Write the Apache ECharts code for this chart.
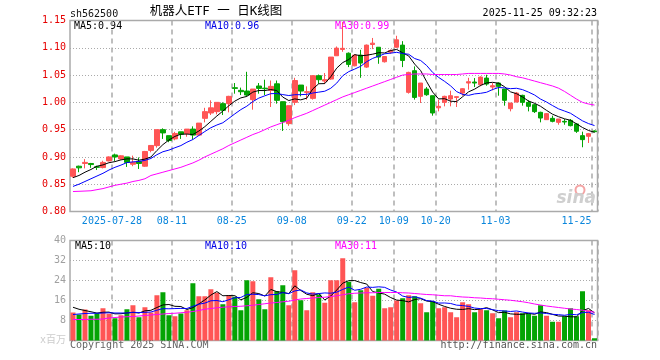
<!DOCTYPE html>
<html>
<head>
<meta charset="utf-8">
<script src="https://cdn.jsdelivr.net/npm/echarts@6/dist/echarts.min.js"></script>
<style>
html,body{margin:0;padding:0;background:#fff;}
#chart{width:660px;height:360px;}
</style>
</head>
<body>
<div id="chart"></div>
<script>
const dates = [
'2025-07-17','2025-07-18','2025-07-21','2025-07-22','2025-07-23','2025-07-24','2025-07-25',
'2025-07-28','2025-07-29','2025-07-30','2025-07-31','2025-08-01',
'2025-08-04','2025-08-05','2025-08-06','2025-08-07','2025-08-08',
'2025-08-11','2025-08-12','2025-08-13','2025-08-14','2025-08-15',
'2025-08-18','2025-08-19','2025-08-20','2025-08-21','2025-08-22',
'2025-08-25','2025-08-26','2025-08-27','2025-08-28','2025-08-29',
'2025-09-01','2025-09-02','2025-09-03','2025-09-04','2025-09-05',
'2025-09-08','2025-09-09','2025-09-10','2025-09-11','2025-09-12',
'2025-09-15','2025-09-16','2025-09-17','2025-09-18','2025-09-19',
'2025-09-22','2025-09-23','2025-09-24','2025-09-25','2025-09-26',
'2025-09-29','2025-09-30',
'2025-10-09','2025-10-10',
'2025-10-13','2025-10-14','2025-10-15','2025-10-16','2025-10-17',
'2025-10-20','2025-10-21','2025-10-22','2025-10-23','2025-10-24',
'2025-10-27','2025-10-28','2025-10-29','2025-10-30','2025-10-31',
'2025-11-03','2025-11-04','2025-11-05','2025-11-06','2025-11-07',
'2025-11-10','2025-11-11','2025-11-12','2025-11-13','2025-11-14',
'2025-11-17','2025-11-18','2025-11-19','2025-11-20','2025-11-21',
'2025-11-24','2025-11-25'
];
const tickDates = ['2025-07-28','2025-08-11','2025-08-25','2025-09-08','2025-09-22','2025-10-09','2025-10-20','2025-11-03','2025-11-25'];
const tickLabels = ['2025-07-28','08-11','08-25','09-08','09-22','10-09','10-20','11-03','11-25'];

const opens = [0.8646,0.883,0.888,0.888,0.882,0.8805,0.8927,0.9037,0.8963,0.900,
0.8866,0.8915,0.883,0.912,0.9207,0.950,0.939,0.933,0.946,0.9427,
0.951,0.940,0.9707,0.9805,0.983,0.9976,0.9976,1.0268,1.022,1.0207,
1.005,1.030,1.026,1.022,1.034,1.0012,0.961,1.000,1.0317,1.0183,
1.0073,1.0488,1.039,1.0427,1.0854,1.097,1.090,1.067,1.0866,1.0646,
1.106,1.101,1.0744,1.092,1.101,1.1049,1.0183,1.058,1.011,1.0244,
1.0122,0.990,1.000,1.0061,1.0091,1.017,1.0354,1.0372,1.0323,1.0445,
1.028,1.0354,1.0244,0.9884,1.0006,1.0128,1.000,0.9957,0.9817,0.9683,
0.9707,0.9634,0.9652,0.967,0.9604,0.939,0.9378,0.9476];
const closes = [0.878,0.880,0.890,0.886,0.881,0.890,0.900,0.900,0.902,0.890,
0.890,0.888,0.910,0.921,0.950,0.944,0.930,0.943,0.9415,0.951,
0.940,0.962,0.983,0.990,1.000,0.9854,1.011,1.0256,1.0195,1.0134,
1.0244,1.0256,1.025,1.0293,1.0037,0.9646,0.9939,1.040,1.0207,1.0195,
1.0488,1.0415,1.0415,1.083,1.0994,1.099,1.0695,1.0866,1.072,1.1049,
1.1085,1.083,1.084,1.095,1.1146,1.0768,1.0549,1.0091,1.0354,1.014,
0.9805,0.9927,1.011,1.0122,1.0104,1.025,1.0378,1.0354,1.0463,1.0335,
1.0305,1.0293,1.0037,0.9988,1.017,1.000,0.9927,0.983,0.9713,0.9793,
0.9652,0.9695,0.964,0.9573,0.947,0.9317,0.9427,0.9463];
const lows = [0.862,0.872,0.879,0.880,0.876,0.879,0.892,0.8927,0.895,0.8817,
0.883,0.878,0.882,0.9085,0.917,0.933,0.927,0.9305,0.933,0.937,
0.9317,0.939,0.9634,0.9768,0.978,0.9768,0.9817,1.0159,1.0134,1.011,
0.9866,1.0159,1.0134,0.9915,0.9976,0.9476,0.957,0.995,1.011,1.005,
1.005,1.034,1.034,1.0415,1.085,1.0927,1.0646,1.066,1.045,1.063,
1.0976,1.0707,1.073,1.089,1.100,1.0646,1.016,1.005,0.9988,1.012,
0.9756,0.9835,0.9927,0.9927,0.9915,1.0122,1.0232,1.028,1.0293,1.0305,
1.022,1.0122,0.9939,0.9835,1.000,0.9939,0.9835,0.9805,0.9634,0.9677,
0.9634,0.959,0.959,0.956,0.944,0.9177,0.9256,0.945];
const highs = [0.879,0.884,0.896,0.889,0.884,0.893,0.901,0.906,0.903,0.900,
0.9024,0.899,0.911,0.921,0.950,0.9524,0.939,0.946,0.946,0.951,
0.956,0.962,0.990,1.0037,1.000,1.000,1.012,1.0354,1.027,1.056,
1.0244,1.0354,1.0415,1.040,1.040,1.0012,0.9939,1.045,1.0317,1.0293,
1.050,1.051,1.0537,1.083,1.1024,1.147,1.0915,1.088,1.0963,1.106,
1.118,1.101,1.084,1.097,1.122,1.1122,1.0561,1.0659,1.0354,1.028,
1.0122,1.005,1.0122,1.0213,1.011,1.026,1.045,1.0445,1.0476,1.0506,
1.0354,1.0366,1.0244,0.9988,1.019,1.014,1.0037,0.9976,0.9829,0.9805,
0.9756,0.9695,0.9695,0.9695,0.9622,0.9463,0.944,0.9488];

const ma5 = [0.862,0.866,0.872,0.877,0.883,0.8854,0.8894,0.8914,0.8946,0.8964,
0.8964,0.894,0.896,0.8998,0.9118,0.9226,0.931,0.9376,0.9417,0.9419,
0.9411,0.9475,0.9555,0.9652,0.975,0.984,0.9938,1.0023,1.0082,1.0109,
1.0188,1.0217,1.0216,1.0235,1.0216,1.0096,1.0033,1.0063,1.0046,1.0077,
1.0246,1.0341,1.0344,1.0469,1.0628,1.0729,1.0785,1.0875,1.0853,1.0864,
1.0883,1.091,1.0905,1.0951,1.097,1.0907,1.0851,1.0701,1.0582,1.038,
1.0188,1.0063,1.0067,1.0021,1.0014,1.0103,1.0193,1.0242,1.031,1.0356,
1.0367,1.035,1.0287,1.0192,1.0159,1.0098,1.0024,0.9983,0.9928,0.9853,
0.9783,0.9737,0.9699,0.9671,0.9606,0.9539,0.9485,0.945];
const ma10 = [0.846,0.850,0.855,0.860,0.865,0.870,0.876,0.881,0.885,0.8897,
0.8909,0.8917,0.8937,0.8972,0.9041,0.9095,0.9125,0.9168,0.9208,0.9269,
0.9319,0.9393,0.9466,0.9535,0.9585,0.9626,0.9707,0.9789,0.9867,0.993,
1.0014,1.0078,1.012,1.0159,1.0163,1.0142,1.0125,1.014,1.0141,1.0147,
1.0171,1.0187,1.0204,1.0258,1.0353,1.0488,1.0563,1.061,1.0661,1.0746,
1.0806,1.0848,1.089,1.0902,1.0917,1.0895,1.0881,1.0803,1.0767,1.0675,
1.0548,1.0457,1.0384,1.0302,1.0197,1.0146,1.0128,1.0155,1.0166,1.0185,
1.0235,1.0272,1.0265,1.0251,1.0258,1.0233,1.0187,1.0135,1.006,1.0006,
0.9941,0.9881,0.9841,0.98,0.973,0.9661,0.9611,0.9575];
const ma30 = [0.8366,0.837,0.8375,0.838,0.840,0.842,0.845,0.848,0.850,0.852,
0.855,0.857,0.860,0.866,0.869,0.872,0.875,0.878,0.881,0.885,
0.889,0.894,0.900,0.905,0.910,0.915,0.921,0.926,0.931,0.936,
0.941,0.945,0.950,0.955,0.959,0.963,0.967,0.972,0.976,0.980,
0.985,0.990,0.995,1.000,1.005,1.010,1.014,1.018,1.022,1.026,
1.030,1.034,1.038,1.042,1.046,1.050,1.051,1.052,1.052,1.052,
1.051,1.051,1.051,1.051,1.051,1.052,1.053,1.053,1.053,1.053,
1.053,1.053,1.052,1.050,1.047,1.045,1.042,1.039,1.036,1.033,
1.030,1.026,1.020,1.013,1.006,1.000,0.997,0.995];

const volumes = [11.2,10.4,12.4,9.9,10.9,12.9,10.7,8.9,10.1,12.5,
14.1,9.3,13.3,11.2,18.1,19.3,10.1,9.7,10.8,12.1,
22.9,17.7,17.7,20.5,19.1,14.5,18.1,17.5,12.1,24.1,
23.7,16.5,12.5,25.3,19.7,22.1,14.1,28.1,16.1,12.1,
19.3,18.4,15.1,24.1,24.1,32.9,23.5,15.3,20.1,21.1,
17.9,20.7,12.9,13.3,16.0,16.9,18.1,17.7,14.9,11.3,
15.7,12.9,13.3,11.3,9.3,15.3,14.5,11.3,12.5,12.1,
10.9,8.9,12.0,9.3,11.3,10.9,10.9,9.9,14.1,9.9,
7.5,7.5,9.7,12.9,9.7,19.7,12.1,0.9];
const volMa5 = [13.3,12.5,12.0,11.5,10.96,11.3,11.36,10.66,10.7,11.02,
11.26,10.98,11.86,12.08,13.2,14.24,14.4,13.68,13.6,12.4,
13.12,14.64,16.24,18.18,19.58,17.9,17.98,17.94,16.26,17.26,
19.1,18.78,17.78,20.42,19.54,19.22,18.74,21.86,20.02,18.5,
17.94,18.8,16.2,17.8,20.2,22.92,23.94,23.98,23.18,22.58,
19.58,19.02,18.54,17.18,16.16,15.96,15.44,16.4,16.72,15.78,
15.54,14.5,13.62,12.9,12.5,12.42,12.74,12.34,12.58,13.14,
12.26,11.14,11.28,10.64,10.48,10.48,10.88,10.46,11.42,11.14,
10.46,9.78,9.74,9.5,9.46,11.9,12.82,11.06];
const volMa10 = [10.4,10.6,10.8,10.9,10.9,11.0,11.1,11.0,11.0,10.99,
11.28,11.17,11.26,11.39,12.11,12.75,12.69,12.77,12.84,12.8,
13.68,14.52,14.96,15.89,15.99,15.51,16.31,17.09,17.22,18.42,
18.5,18.38,17.86,18.34,18.4,19.16,18.76,19.82,20.22,19.02,
18.58,18.77,19.03,18.91,19.35,20.43,21.37,20.09,20.49,21.39,
21.25,21.48,21.26,20.18,19.37,17.77,17.23,17.47,16.95,15.97,
15.75,14.97,15.01,14.81,14.14,13.98,13.62,12.98,12.74,12.82,
12.34,11.94,11.81,11.61,11.81,11.37,11.01,10.87,11.03,10.81,
10.47,10.33,10.1,10.46,10.3,11.18,11.3,10.4];
const volMa30 = [8.4,8.4,8.4,8.5,8.5,8.6,9.0,9.2,9.4,9.5,
9.6,9.8,10.0,10.2,10.4,10.6,10.8,10.9,11.1,11.3,
11.6,12.0,12.5,12.8,13.1,13.3,13.5,13.6,13.7,13.9,
14.1,14.4,14.7,15.0,15.2,15.5,15.7,16.2,16.6,16.8,
17.0,17.2,17.3,17.6,17.9,18.3,18.7,18.9,19.0,19.1,
19.1,19.2,19.2,19.2,19.2,19.1,19.0,18.8,18.6,18.4,
18.3,18.1,17.9,17.9,17.6,17.4,17.3,17.1,17.0,16.8,
16.7,16.5,16.3,16.1,15.8,15.5,15.1,14.6,14.2,13.8,
13.5,13.2,12.9,12.6,12.4,12.1,11.7,11.3];

const priceMaLabels = ['MA5:0.94','MA10:0.96','MA30:0.99'];
const volMaLabels = ['MA5:10','MA10:10','MA30:11'];
const titleText = '机器人ETF 一 日K线图';
const codeText = 'sh562500';
const timeText = '2025-11-25 09:32:23';
const volUnit = 'x百万';

const RED = '#ff5555';
const GREEN = '#04a404';
const MONO = "'DejaVu Sans Mono', 'Noto Sans CJK SC', monospace";
const GRIDCOLOR = '#aaaaaa';

const chart = echarts.init(document.getElementById('chart'), null, {renderer: 'canvas'});

const candleData = opens.map((o, i) => [o, closes[i], lows[i], highs[i]]);
const volData = volumes.map((v, i) => ({
  value: v,
  itemStyle: {color: closes[i] >= opens[i] ? RED : GREEN}
}));

const lastDate = dates[dates.length - 1];
const showTick = (idx, value) => tickDates.indexOf(value) >= 0;
const splitLineStyle = {show: true, interval: showTick, lineStyle: {color: GRIDCOLOR, type: [5, 4], width: 1.5}};

function lineSeries(data, color, xi, yi) {
  return {type: 'line', data: data, xAxisIndex: xi, yAxisIndex: yi, symbol: 'none', showSymbol: false,
    lineStyle: {color: color, width: 1}, itemStyle: {color: color}, silent: true, animation: false, z: 3};
}

const option = {
  animation: false,
  backgroundColor: '#fff',
  textStyle: {fontFamily: MONO},
  grid: [
    {left: 70, top: 20.5, width: 527.5, height: 191, show: true, borderColor: GRIDCOLOR, borderWidth: 1.5},
    {left: 70, top: 240.5, width: 527.5, height: 100, show: true, borderColor: GRIDCOLOR, borderWidth: 1.5}
  ],
  xAxis: [
    {type: 'category', gridIndex: 0, data: dates, boundaryGap: true,
      axisLine: {show: false}, axisTick: {show: false},
      axisLabel: {
        interval: showTick, color: '#0a86dc', fontFamily: MONO, fontSize: 10, margin: 5,
        padding: [0, 6, 0, 0],
        formatter: function (value) {
          const k = tickDates.indexOf(value);
          const t = k >= 0 ? tickLabels[k] : '';
          return value === lastDate ? '{e|' + t + '}' : t;
        },
        rich: {e: {padding: [0, 30, 0, 0], color: '#0a86dc', fontFamily: MONO, fontSize: 10}}
      },
      splitLine: splitLineStyle},
    {type: 'category', gridIndex: 1, data: dates, boundaryGap: true,
      axisLine: {show: false}, axisTick: {show: false}, axisLabel: {show: false},
      splitLine: splitLineStyle}
  ],
  yAxis: [
    {type: 'value', gridIndex: 0, min: 0.80, max: 1.15, interval: 0.05, scale: false,
      axisLine: {show: false}, axisTick: {show: false},
      axisLabel: {color: '#e60000', fontFamily: MONO, fontSize: 10, margin: 4,
        formatter: v => v.toFixed(2)},
      splitLine: {show: true, lineStyle: {color: GRIDCOLOR, type: [1, 2], width: 1}}},
    {type: 'value', gridIndex: 1, min: 0, max: 40, interval: 8,
      axisLine: {show: false}, axisTick: {show: false},
      axisLabel: {color: '#a0a0a0', fontFamily: MONO, fontSize: 10, margin: 4,
        formatter: v => v === 0 ? '{u|' + volUnit + '}' : String(v),
        rich: {u: {color: '#cccccc', fontFamily: MONO, fontSize: 10}}},
      splitLine: {show: true, lineStyle: {color: GRIDCOLOR, type: [1, 2], width: 1}}}
  ],
  series: [
    {type: 'candlestick', xAxisIndex: 0, yAxisIndex: 0, data: candleData, barWidth: 5,
      itemStyle: {color: RED, color0: GREEN, borderColor: RED, borderColor0: GREEN, borderWidth: 1},
      silent: true, animation: false, z: 2},
    lineSeries(ma5, '#000000', 0, 0),
    lineSeries(ma10, '#0000ff', 0, 0),
    lineSeries(ma30, '#ff00ff', 0, 0),
    {type: 'bar', xAxisIndex: 1, yAxisIndex: 1, data: volData, barWidth: 5, silent: true, animation: false, z: 2},
    lineSeries(volMa5, '#000000', 1, 1),
    lineSeries(volMa10, '#0000ff', 1, 1),
    lineSeries(volMa30, '#ff00ff', 1, 1)
  ],
  graphic: [
    {type: 'text', x: 70, y: 14, style: {text: codeText, font: '10px ' + MONO, fill: '#111', verticalAlign: 'middle', align: 'left'}},
    {type: 'text', x: 216, y: 12, style: {text: titleText, font: "12.5px 'DejaVu Sans Mono', 'Noto Sans CJK SC'", fill: '#000', verticalAlign: 'middle', align: 'center'}},
    {type: 'text', x: 597, y: 13.5, style: {text: timeText, font: '10px ' + MONO, fill: '#000', verticalAlign: 'middle', align: 'right'}},
    {type: 'text', x: 74, y: 26.5, style: {text: priceMaLabels[0], font: '10px ' + MONO, fill: '#000', verticalAlign: 'middle'}},
    {type: 'text', x: 205, y: 26.5, style: {text: priceMaLabels[1], font: '10px ' + MONO, fill: '#0000e6', verticalAlign: 'middle'}},
    {type: 'text', x: 335, y: 26.5, style: {text: priceMaLabels[2], font: '10px ' + MONO, fill: '#ff00ff', verticalAlign: 'middle'}},
    {type: 'text', x: 75, y: 246.5, style: {text: volMaLabels[0], font: '10px ' + MONO, fill: '#000', verticalAlign: 'middle'}},
    {type: 'text', x: 205, y: 246.5, style: {text: volMaLabels[1], font: '10px ' + MONO, fill: '#0000e6', verticalAlign: 'middle'}},
    {type: 'text', x: 335, y: 246.5, style: {text: volMaLabels[2], font: '10px ' + MONO, fill: '#ff00ff', verticalAlign: 'middle'}},
    {type: 'text', x: 70, y: 345.5, style: {text: 'Copyright 2025 SINA.COM', font: '10px ' + MONO, fill: '#666', verticalAlign: 'middle'}},
    {type: 'text', x: 597, y: 345.5, style: {text: 'http://finance.sina.com.cn', font: '10px ' + MONO, fill: '#555', verticalAlign: 'middle', align: 'right'}},
    {type: 'circle', shape: {cx: 580, cy: 190, r: 4.5}, style: {fill: 'none', stroke: '#f4a4a4', lineWidth: 2}, z: 1},
    {type: 'text', x: 596, y: 199, style: {text: 'sina', font: "italic bold 17px 'DejaVu Sans'", fill: '#cfcfcf', verticalAlign: 'middle', align: 'right'}, z: 1}
  ]
};
chart.setOption(option);
</script>
</body>
</html>
